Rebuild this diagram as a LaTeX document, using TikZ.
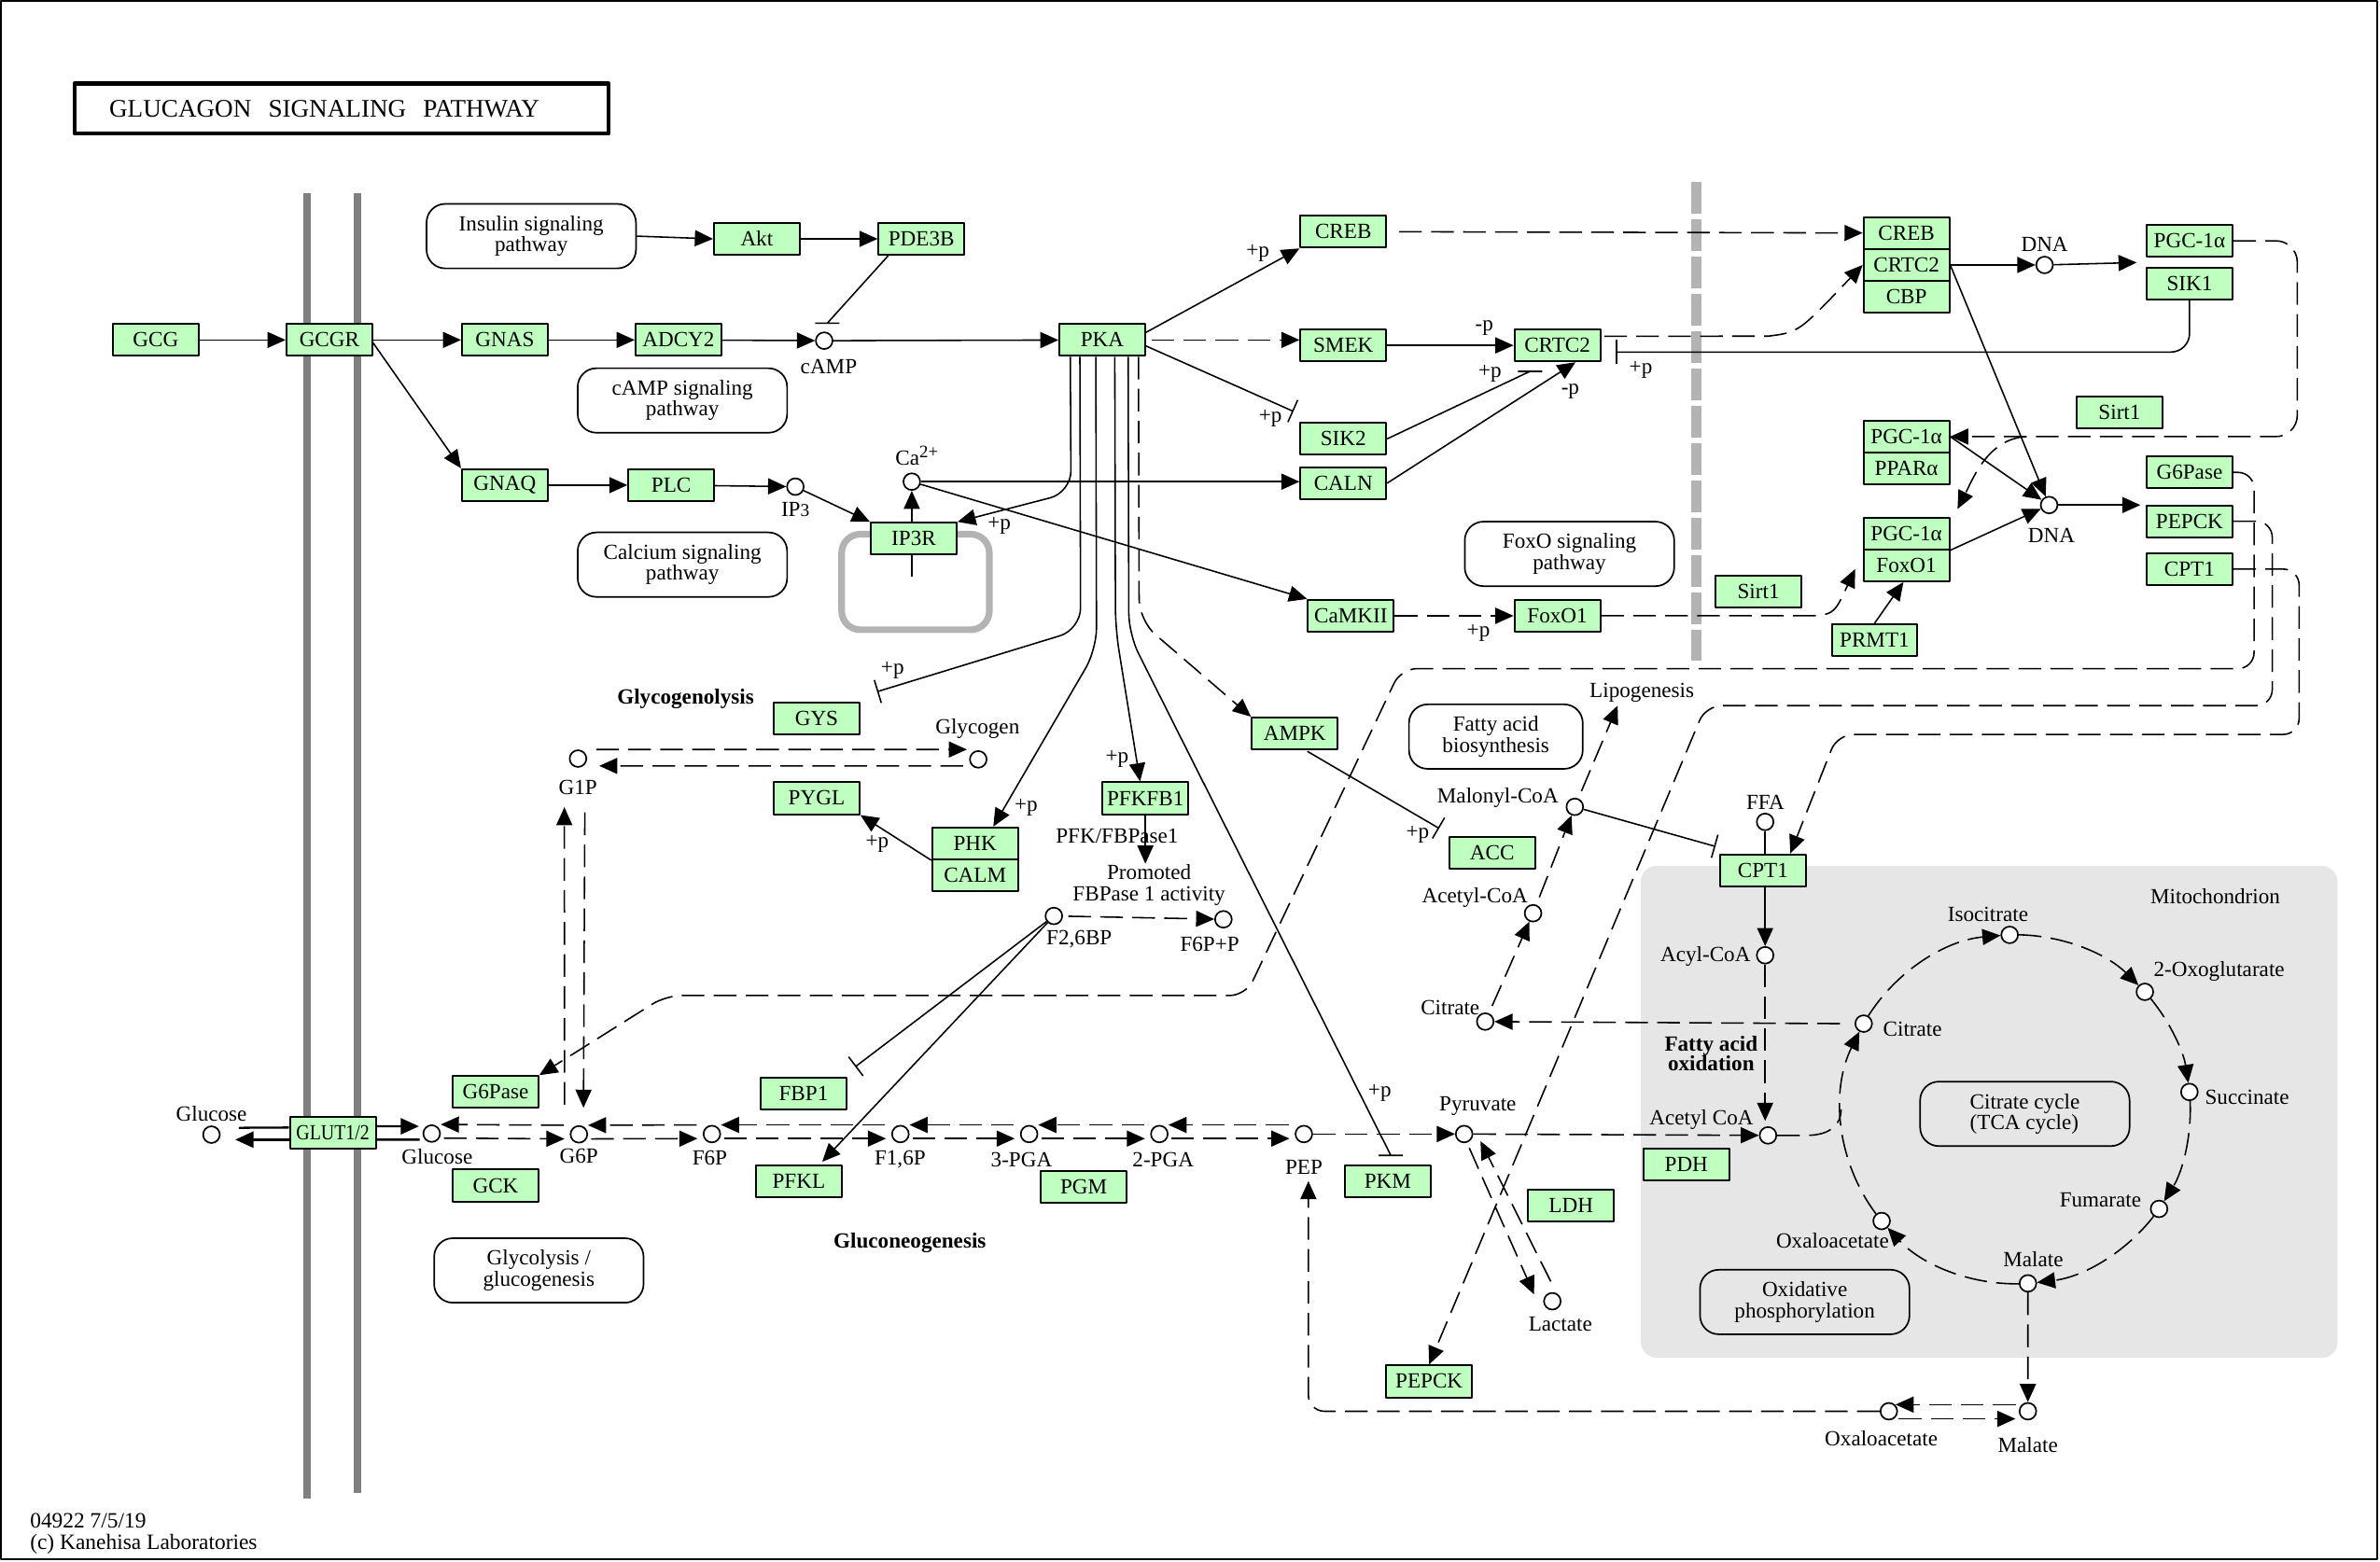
\documentclass[tikz,border=0pt]{standalone}
\usepackage{fontspec}
\setmainfont{Liberation Serif}
\usetikzlibrary{arrows.meta,calc}
\definecolor{kgreen}{RGB}{191,255,191}
\definecolor{mitogray}{RGB}{230,230,230}
\definecolor{membgray}{RGB}{128,128,128}
\definecolor{lgray}{RGB}{179,179,179}
\begin{document}
\begin{tikzpicture}[x=0.02cm,y=-0.02cm,font=\fontsize{8.1pt}{7.8pt}\selectfont,line join=round,
    gene/.style={draw,fill=kgreen,line width=0.7pt,minimum width=1.13cm,minimum height=0.42cm,inner sep=0pt},
    cpd/.style={circle,draw,fill=white,line width=0.6pt,minimum size=0.22cm,inner sep=0pt},
    mapbox/.style={draw,rounded corners=7pt,line width=0.6pt,minimum width=2.76cm,minimum height=0.85cm,align=center,inner sep=1pt},
    txt/.style={inner sep=0pt},
    bold/.style={txt,font=\bfseries\fontsize{8.1pt}{7.6pt}\selectfont},
    ln/.style={line width=0.55pt},
    act/.style={ln,-{Triangle[length=6.8pt,width=6pt]}},
    inh/.style={ln,-{Bar[width=9pt]}},
    dsh/.style={dash pattern=on 8.5pt off 3.5pt}]
\useasboundingbox (0,0) rectangle (1568,1029.3);
\draw[line width=0.7pt] (0.7,0.7) rectangle (1566.2,1027.7);
\fill[mitogray,rounded corners=6pt] (1081,570.6) rectangle (1540,894.8);
\draw[membgray,line width=2.6pt] (202.3,127) -- (202.3,987.6) (235.5,127) -- (235.5,984);
\draw[lgray,line width=4pt,dash pattern=on 11.9pt off 2.1pt] (1117.4,119.7) -- (1117.4,435.5);
\draw[lgray,line width=2.5pt,rounded corners=7pt] (554.5,352) rectangle (651.8,415);

\node[draw,line width=1.5pt,minimum width=7.04cm,minimum height=0.66cm,text width=6.12cm,inner xsep=0.46cm,align=left,font=\fontsize{9.5pt}{10pt}\selectfont] (title) at (225,71.5) {GLUCAGON~~SIGNALING~~PATHWAY};
\node[txt,anchor=west,align=left,font=\fontsize{8.2pt}{8pt}\selectfont] (foot) at (19.5,1010.7) {04922 7/5/19\\(c) Kanehisa Laboratories};

% genes
\path (102.6,224) node[gene] (GCG) {GCG}
  (217,224) node[gene] (GCGR) {GCGR}
  (332.6,224) node[gene] (GNAS) {GNAS}
  (447,224) node[gene] (ADCY2) {ADCY2}
  (726.2,224) node[gene] (PKA) {PKA}
  (498.6,157.4) node[gene] (Akt) {Akt}
  (607,157.4) node[gene] (PDE3B) {PDE3B}
  (332.6,319.7) node[gene] (GNAQ) {GNAQ}
  (442.2,319.7) node[gene] (PLC) {PLC}
  (602,355) node[gene] (IP3R) {IP3R}
  (885,152.6) node[gene] (CREB) {CREB}
  (885,227.6) node[gene] (SMEK) {SMEK}
  (885,289.2) node[gene] (SIK2) {SIK2}
  (885,318.4) node[gene] (CALN) {CALN}
  (1026,227.6) node[gene] (CRTC2) {CRTC2}
  (890,405.8) node[gene] (CaMKII) {CaMKII}
  (1026,405.8) node[gene] (FoxOm) {FoxO1}
  (1256,153.6) node[gene] (CREBc) {CREB}
  (1256,174.6) node[gene] (CRTCc) {CRTC2}
  (1256,195.6) node[gene] (CBP) {CBP}
  (1442.5,158.7) node[gene] (PGCa) {PGC-1α}
  (1442.5,187) node[gene] (SIK1) {SIK1}
  (1396.4,271.8) node[gene] (SirtA) {Sirt1}
  (1256,287.7) node[gene] (PGCb) {PGC-1α}
  (1256,308.6) node[gene] (PPARa) {PPARα}
  (1256,351.5) node[gene] (PGCc) {PGC-1α}
  (1256,372.5) node[gene] (FoxOc) {FoxO1}
  (1442.5,311.3) node[gene] (G6PaseR) {G6Pase}
  (1442.5,343.5) node[gene] (PEPCKR) {PEPCK}
  (1442.5,375) node[gene] (CPT1R) {CPT1}
  (1158.5,390) node[gene] (SirtB) {Sirt1}
  (1235,421.8) node[gene] (PRMT1) {PRMT1}
  (853,483.4) node[gene] (AMPK) {AMPK}
  (983,562) node[gene] (ACC) {ACC}
  (538,473.5) node[gene] (GYS) {GYS}
  (538,526) node[gene] (PYGL) {PYGL}
  (642.4,555.8) node[gene] (PHK) {PHK}
  (642.4,576.6) node[gene] (CALM) {CALM}
  (754.6,526) node[gene] (PFKFB1) {PFKFB1}
  (529.4,720.7) node[gene] (FBP1) {FBP1}
  (526.3,778.5) node[gene] (PFKL) {PFKL}
  (326.5,719.6) node[gene] (G6PaseL) {G6Pase}
  (326.5,781.2) node[gene] (GCK) {GCK}
  (219.3,746.5) node[gene] (GLUT) {\scalebox{0.86}[1]{GLUT1/2}}
  (714,782.2) node[gene] (PGM) {PGM}
  (914.3,778.5) node[gene] (PKM) {PKM}
  (1035,794.4) node[gene] (LDH) {LDH}
  (1111,767.4) node[gene] (PDH) {PDH}
  (941.5,910.3) node[gene] (PEPCKL) {PEPCK}
  (1161.5,573.5) node[gene] (CPT1L) {CPT1};

% maps
\path (350,155.6) node[mapbox] (mInsulin) {Insulin signaling\\pathway}
  (449.6,263.9) node[mapbox] (mcAMP) {cAMP signaling\\pathway}
  (449.6,372.1) node[mapbox] (mCalcium) {Calcium signaling\\pathway}
  (1034,365) node[mapbox] (mFoxO) {FoxO signaling\\pathway}
  (985.5,485.4) node[mapbox,minimum width=2.29cm] (mFAB) {Fatty acid\\biosynthesis}
  (355,837.2) node[mapbox] (mGlyco) {Glycolysis /\\glucogenesis}
  (1334,734) node[mapbox,align=left] (mTCA) {Citrate cycle\\(TCA cycle)}
  (1189,858) node[mapbox] (mOxPhos) {Oxidative\\phosphorylation};

% compounds
\path (543,224.5) node[cpd] (cAMP) {}
  (524,320.7) node[cpd] (IP3) {}
  (600.7,317.4) node[cpd] (Ca) {}
  (1347,174.6) node[cpd] (DNAa) {}
  (1350,332.8) node[cpd] (DNAb) {}
  (380.8,499.9) node[cpd] (G1P) {}
  (644.5,500.4) node[cpd] (Glycogen) {}
  (694.3,603.6) node[cpd] (F26BP) {}
  (806,605.8) node[cpd] (F6PP) {}
  (139.3,747.7) node[cpd] (GlcO) {}
  (284.4,747) node[cpd] (GlcI) {}
  (381.4,747.5) node[cpd] (G6P) {}
  (469,747.3) node[cpd] (F6P) {}
  (593.2,747.3) node[cpd] (F16BP) {}
  (678,747.3) node[cpd] (PGA3) {}
  (763.8,747.3) node[cpd] (PGA2) {}
  (859,747.3) node[cpd] (PEP) {}
  (964.6,747.3) node[cpd] (Pyr) {}
  (1022.7,857.5) node[cpd] (Lac) {}
  (1164.8,748.2) node[cpd] (AcCoA) {}
  (978.5,673.2) node[cpd] (CitO) {}
  (1010,601.8) node[cpd] (AcCoAo) {}
  (1037.5,531.7) node[cpd] (MalCoA) {}
  (1162.9,541.6) node[cpd] (FFA) {}
  (1162.9,629.5) node[cpd] (AcylCoA) {}
  (1244.4,930) node[cpd] (OAAL) {}
  (1336,930) node[cpd] (MalL) {};
\coordinate (tcac) at (1328,731);
\foreach \n/\a in {CitT/209.4,IsoCit/268,OG/317.7,Succ/354.3,Fum/34.8,MalT/86,OAAT/140.2}
  \node[cpd] (\n) at ($(tcac)+(\a:115)$) {};

% labels
\path (546,241.6) node[txt] (tcAMP) {cAMP}
  (524,336) node[txt] (tIP3) {IP{\fontsize{6.8pt}{7pt}\selectfont 3}}
  (604,300) node[txt] (tCa) {Ca\raisebox{0.75ex}{\fontsize{6.6pt}{7pt}\selectfont 2+}}
  (1347,161) node[txt] (tDNAa) {DNA}
  (1351.5,353) node[txt] (tDNAb) {DNA}
  (380.8,519) node[txt] (tG1P) {G1P}
  (644,480.3) node[txt] (tGlycogen) {Glycogen}
  (711,618.7) node[txt] (tF26BP) {F2,6BP}
  (797,622) node[txt] (tF6PP) {F6P+P}
  (736,550.8) node[txt] (tPFK) {PFK/FBPase1}
  (757,583.2) node[txt,align=center,font=\fontsize{8.1pt}{8.2pt}\selectfont] (prom) {Promoted\\FBPase 1 activity}
  (139.3,733.9) node[txt] (tGlcO) {Glucose}
  (288,762) node[txt] (tGlcI) {Glucose}
  (381.4,762) node[txt] (tG6P) {G6P}
  (467.6,763) node[txt] (tF6P) {F6P}
  (593,764) node[txt] (tF16BP) {F1,6P}
  (673,764) node[txt] (tPGA3) {3-PGA}
  (766.3,764.5) node[txt] (tPGA2) {2-PGA}
  (859,769.2) node[txt] (tPEP) {PEP}
  (973.6,729) node[txt] (tPyr) {Pyruvate}
  (1028,872.7) node[txt] (tLac) {Lactate}
  (1121,737.8) node[txt] (tAcCoA) {Acetyl CoA}
  (955.4,664) node[txt] (tCitO) {Citrate}
  (971.7,591.5) node[txt] (tAcCoAo) {Acetyl-CoA}
  (986.8,525.6) node[txt] (tMalCoA) {Malonyl-CoA}
  (1081.7,456.4) node[txt] (lipo) {Lipogenesis}
  (1163,528.5) node[txt] (tFFA) {FFA}
  (1123.6,630) node[txt] (tAcyl) {Acyl-CoA}
  (1127.3,694.2) node[bold,align=center] (tFAO) {Fatty acid\\oxidation}
  (1459.5,590.4) node[txt] (tMito) {Mitochondrion}
  (1260,678.3) node[txt] (tCitT) {Citrate}
  (1309.7,602.5) node[txt] (tIso) {Isocitrate}
  (1462,639.8) node[txt] (tOG) {2-Oxoglutarate}
  (1480.4,722.9) node[txt] (tSucc) {Succinate}
  (1383.8,791) node[txt] (tFum) {Fumarate}
  (1339.5,830) node[txt] (tMalT) {Malate}
  (1207.3,817.6) node[txt] (tOAAT) {Oxaloacetate}
  (1239.4,947.6) node[txt] (tOAAL) {Oxaloacetate}
  (1336,952) node[txt] (tMalL) {Malate}
  (451.7,460.8) node[bold] (tGlycoly) {Glycogenolysis}
  (599.4,819) node[bold] (tGluco) {Gluconeogenesis}
  (828.7,166.9) node[txt] (pCREB) {+p}
  (977.9,216.3) node[txt] (pSMEK) {-p}
  (837,275.6) node[txt] (pSIKa) {+p}
  (981.6,246) node[txt] (pSIKb) {+p}
  (1034.5,258) node[txt] (pCALN) {-p}
  (1081,243.8) node[txt] (pSIK1) {+p}
  (658.4,346.6) node[txt] (pIP3R) {+p}
  (588,442) node[txt] (pGYS) {+p}
  (676,532) node[txt] (pPHK) {+p}
  (736,500) node[txt] (pPFK) {+p}
  (578,556) node[txt] (pPYGL) {+p}
  (974,417) node[txt] (pFoxO) {+p}
  (934,549.8) node[txt] (pACC) {+p}
  (909,720) node[txt] (pPKM) {+p};

% signalling
\draw[act] (GCG) -- (GCGR);
\draw[act] (GCGR) -- (GNAS);
\draw[act] (GNAS) -- (ADCY2);
\draw[act] (ADCY2) -- (cAMP);
\draw[act] (cAMP) -- (PKA);
\draw[act] ($(GCGR.east)+(0,2)$) -- (GNAQ.north west);
\draw[act] (GNAQ) -- (PLC);
\draw[act] (PLC) -- (IP3);
\draw[act] (mInsulin.east) -- (Akt.west);
\draw[act] (Akt) -- (PDE3B);
\draw[ln] ($(PDE3B.south west)+(7,0)$) -- ($(cAMP)+(2,-11.5)$) ++(-8,0) -- ++(16,0);
\draw[act] (IP3) -- (IP3R.north west);
\draw[act] (IP3R.north -| Ca) -- (Ca);
\draw[ln] (IP3R.south -| Ca) -- ++(0,14);
\draw[act] (Ca) -- (Ca -| CALN.west);
\draw[act] (Ca) -- (CaMKII.north west);
\draw[act] ($(PKA.east)+(0,-5)$) -- (CREB.south west);
\draw[act,dsh,shorten <=2pt] (PKA.east) -- (PKA.east -| SMEK.west);
\draw[inh] ($(PKA.east)+(0,4)$) -- ($(SIK2.north west)+(-4,-7)$);
\draw[act,rounded corners=8pt] ($(PKA.south west)+(7.8,0)$) -- (705.6,324.5) -- (IP3R.north east);
\draw[inh,rounded corners=8pt] ($(PKA.south west)+(14.1,0)$) -- (711.9,414.8) -- ($(GYS.north east)+(11,-6.6)$);
\draw[act,rounded corners=8pt] ($(PKA.south west)+(24.6,0)$) -- (722.4,428) -- ($(PHK.north)+(12,0)$);
\draw[act,rounded corners=8pt] ($(PKA.south west)+(37.1,0)$) -- (734.9,414.5) -- ($(PFKFB1.north)+(-3.5,0)$);
\draw[ln,rounded corners=8pt] ($(PKA.south west)+(45.9,0)$) -- (743.7,418) -- ($(PKM.north)+(2,-6)$) ++(-8,0) -- ++(16,0);
\draw[act,dsh,rounded corners=8pt] ($(PKA.south west)+(52.7,0)$) -- (750.5,409) -- (AMPK.north west);

% CRTC2 and nucleus
\draw[act,dsh,shorten <=4.5pt] (CREB) -- (CREBc);
\draw[act] (SMEK) -- (CRTC2);
\draw[ln] (SIK2.east) -- ($(CRTC2.south)+(-18,6)$) ++(-8,0) -- ++(16,0);
\draw[act] (CALN.east) -- ($(CRTC2.south)+(12,0)$);
\draw[act,dsh] ($(CRTC2.east)+(2,-6)$) -- (1165,221.5) .. controls (1185,219) .. (CRTCc.west);
\draw[inh,rounded corners=7pt] (SIK1.south) |- ($(CRTC2.east)+(9.5,4.4)$);
\draw[act] (CRTCc.east) -- (DNAa);
\draw[act,shorten >=3.4pt] (DNAa) -- ($(PGCa.west)!0.5!(SIK1.west)$);
\draw[act] (CRTCc.east) -- (DNAb);
\draw[act] (PGCb.east) -- (DNAb);
\draw[act] (PGCc.south east) -- (DNAb);
\draw[act,shorten >=2pt] (DNAb) -- (DNAb -| PEPCKR.west);
\coordinate (pgcfork) at (1335,287.7);
\draw[act,dsh,rounded corners=8pt] (PGCa.east) -- (1513.5,158.7) -- (1513.5,287.7) -- (PGCb.east);
\draw[act,dsh] (pgcfork) .. controls (1310,289) and (1300,315) .. ($(PGCc.north east)+(4.8,-5)$);
\draw[act,dsh] (CaMKII) -- (FoxOm);
\draw[act,dsh] (FoxOm.east) -- (1185,405.8) .. controls (1208,405.8) .. ($(FoxOc.west)+(-5,2.5)$);
\draw[act] (PRMT1.north) -- ($(FoxOc.south)+(-2,0)$);
\draw[act,dsh,rounded corners=6pt] (G6PaseR.east) -- (1485,311.3) -- (1485,440.6) -- (923,440.6) -- (820.8,656) -- (438.8,656) -- (G6PaseL.north east);
\draw[act,dsh,rounded corners=6pt] (PEPCKR.east) -- (1497,343.5) -- (1497,465) -- (1123.8,465) -- (PEPCKL.north);
\draw[act,dsh,rounded corners=6pt] (CPT1R.east) -- (1514.7,375) -- (1514.7,484) -- (1210.5,484) -- ($(CPT1L.north)+(18,0)$);

% glycogen
\draw[act,dsh] ($(G1P)+(12,-6)$) -- ($(Glycogen)+(-7.5,-6.5)$);
\draw[act,dsh] ($(Glycogen)+(-10,4.3)$) -- ($(G1P)+(14,4.8)$);
\draw[act,dsh] ($(G6P)+(-9.5,-19.5)$) -- ($(G1P)+(-9,32)$);
\draw[act,dsh] ($(G1P)+(4.5,35.5)$) -- ($(G6P)+(3,-17.5)$);
\draw[act] (PHK.south west) -- (PYGL.south east);
\draw[act] (PFKFB1.south) -- (PFKFB1.south |- prom.north);
\draw[act,dsh,shorten <=2pt] (F26BP) -- (F6PP);
\draw[inh] (F26BP) -- ($(FBP1.north east)+(5.2,-6.6)$);
\draw[act] (F26BP) -- ($(PFKL.north)+(15.4,-1.8)$);

% glycolysis / gluconeogenesis
\draw[ln,line width=0.8pt] ($(GlcO)+(18,-4.5)$) -- ($(GLUT.west)+(0,-3.5)$);
\draw[act,line width=0.8pt] ($(GLUT.east)+(0,-4.3)$) -- ($(GlcI)+(-8.4,-4.8)$);
\draw[ln,line width=0.8pt] ($(GlcI)+(-8,4)$) -- ($(GLUT.east)+(0,4.5)$);
\draw[act,line width=0.8pt] ($(GLUT.west)+(0,4.5)$) -- ($(GlcO)+(15.7,3.3)$);
\foreach \a/\b in {GlcI/G6P,G6P/F6P,F6P/F16BP,F16BP/PGA3,PGA3/PGA2,PGA2/PEP}
  {\draw[act,dsh] ($(\b)+(-10,-6)$) -- ($(\a)+(6,-6)$);
   \draw[act,dsh] ($(\a)+(8,3)$) -- ($(\b)+(-9.5,3)$);}
\draw[act,dsh] (PEP) -- (Pyr);
\draw[act,dsh] (Pyr) -- (AcCoA);
\draw[act,dsh] ($(Pyr)+(3.4,9.2)$) -- ($(Lac)+(-12,-4.5)$);
\draw[act,dsh] ($(Lac)+(-1,-13)$) -- ($(Pyr)+(10.8,4.7)$);
\draw[act,dsh,rounded corners=6pt] (OAAL.west) -| ($(PEP)+(3,31)$);
\draw[act,dsh] ($(MalL)+(-8,-4.4)$) -- ($(OAAL)+(4.4,-4.4)$);
\draw[act,dsh] ($(OAAL)+(6.6,5)$) -- ($(MalL)+(-8.2,5)$);
\draw[act,dsh] (MalT) -- (MalL);

% fatty acids and mitochondrion
\draw[inh] ($(AMPK.south)+(8.3,0.6)$) -- ($(ACC.north west)+(-6,-5)$);
\draw[act,dsh,shorten <=3pt] (CitO) -- (AcCoAo);
\draw[act,dsh,shorten <=3pt] (AcCoAo) -- (MalCoA);
\draw[act,dsh,shorten <=3pt] (MalCoA) -- ($(lipo.south)+(-16,2)$);
\draw[inh] (MalCoA) -- ($(CPT1L.north west)+(-2.5,-4.6)$);
\draw[ln] (FFA) -- (FFA |- CPT1L.north);
\draw[act] (CPT1L.south -| AcylCoA) -- (AcylCoA);
\draw[act,dsh,shorten >=2pt] (AcylCoA) -- (AcylCoA |- AcCoA.north);
\draw[act,dsh] ($(CitT)+(-15.7,0)$) -- (CitO);
\draw[ln,dsh] (AcCoA.east) -- (1190,748.2) .. controls (1207,748.2) and (1213,740) .. ($(tcac)+(180:115)$);
\foreach \s/\e in {209.4/268,268/317.7,317.7/354.3,354.3/394.8,394.8/446,446/500.2,500.2/569.4}
  {\pgfmathsetmacro\sa{\s+3}\pgfmathsetmacro\ea{\e-3}
   \draw[act,dsh] ($(tcac)+(\sa:115)$) arc[start angle=\sa,end angle=\ea,radius=115];}
\end{tikzpicture}
\end{document}
